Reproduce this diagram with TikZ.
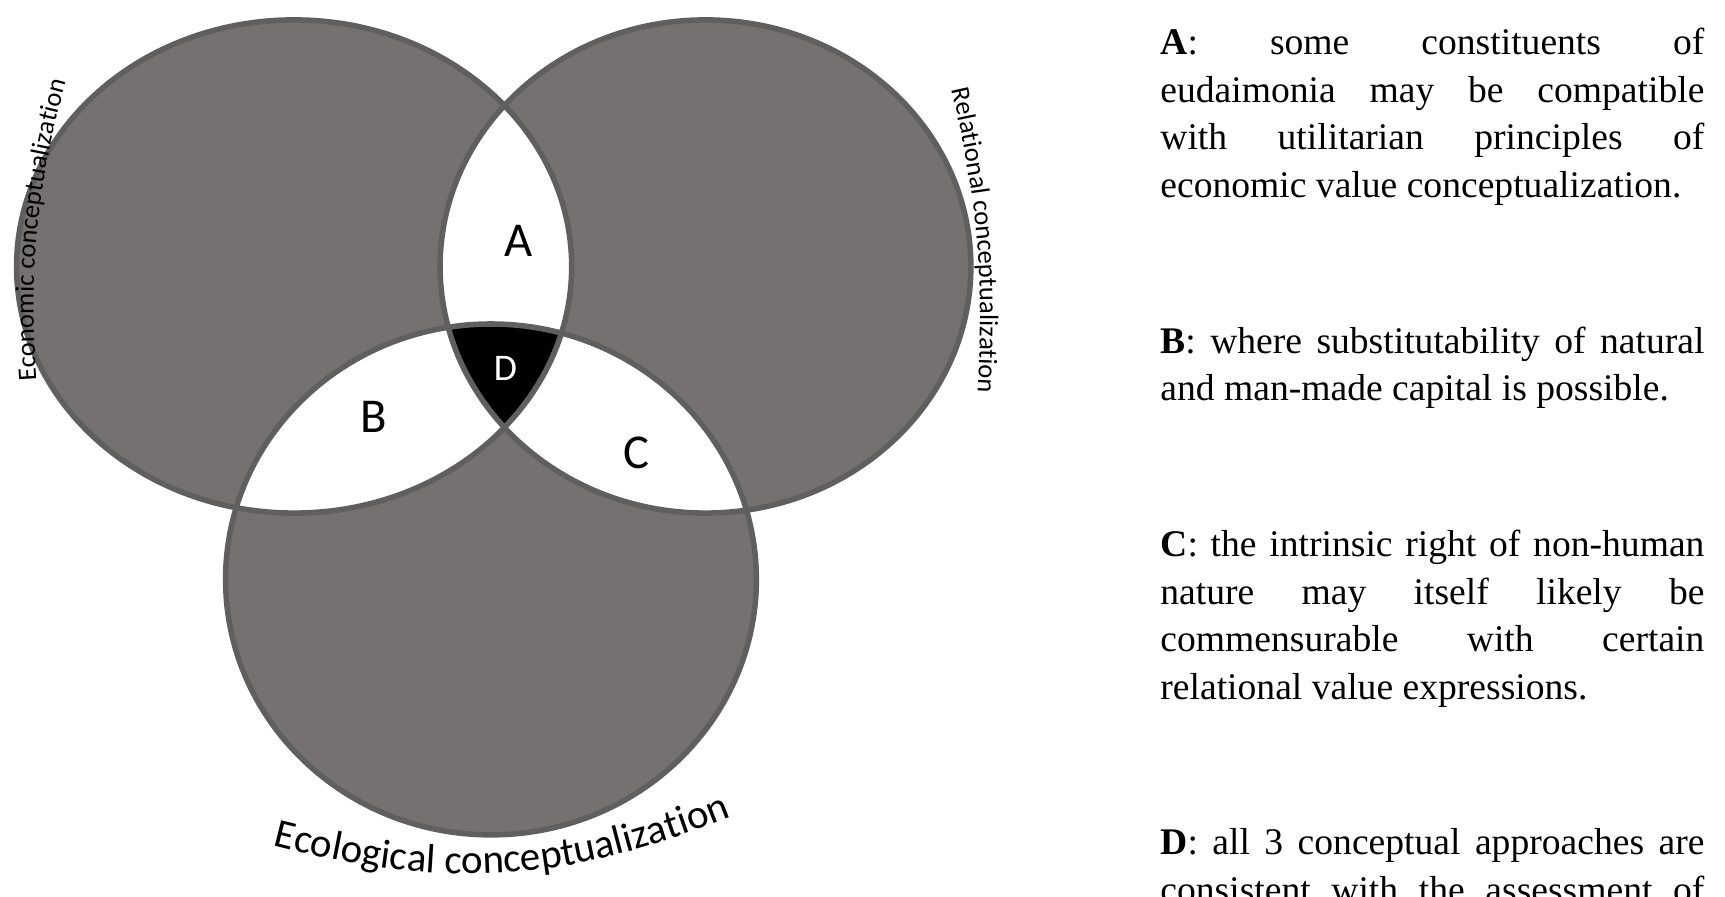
\documentclass[tikz,border=0pt]{standalone}
\usepackage{fontspec}
\setmainfont{Liberation Serif}
\newfontfamily\calib{Carlito}
\usetikzlibrary{decorations.text}
\definecolor{venngray}{HTML}{767171}
\definecolor{vennline}{HTML}{5F5F5F}
\begin{document}
\begin{tikzpicture}[x=0.5pt,y=0.5pt,
  rlabel/.style={font=\calib\fontsize{22}{22}\selectfont},
  para/.style={anchor=north west,inner sep=0pt,text width=246pt,align=justify,
     font=\fontsize{17}{21.5}\selectfont}]
\useasboundingbox (0,0) rectangle (1560,811);
\clip (0,0) rectangle (1560,811);
\def\Lc{(266,570) ellipse [x radius=251,y radius=223]}
\def\Rc{(638,570) ellipse [x radius=240,y radius=223]}
\def\Bc{(444,287) ellipse [x radius=240,y radius=231]}
\fill[venngray] \Lc; \fill[venngray] \Rc; \fill[venngray] \Bc;
\begin{scope}\clip \Lc; \fill[white] \Rc; \fill[white] \Bc;\end{scope}
\begin{scope}\clip \Rc; \fill[white] \Bc;\end{scope}
\begin{scope}\clip \Lc; \clip \Rc; \fill[black] \Bc;\end{scope}
\draw[vennline,line width=2.5pt] \Lc \Rc \Bc;
\node[rlabel] (A) at (469,593) {A};
\node[rlabel] (B) at (338,434) {B};
\node[rlabel] (C) at (576,401) {C};
\node[rlabel,white,font=\calib\fontsize{17}{17}\selectfont] (D) at (457,478) {D};
% curved labels
\coordinate (l1) at (34,452); \coordinate (l2) at (64,752);
\coordinate (r1) at (860,734); \coordinate (r2) at (884,452);
\coordinate (e1) at (248,46); \coordinate (e2) at (660,72);
\path[decorate,decoration={text along path,text align=center,
   text={|\calib\fontsize{12}{12}\selectfont|Economic conceptualization}}]
   (l1) to[bend left=10] (l2);
\path[decorate,decoration={text along path,text align=center,
   text={|\calib\fontsize{12}{12}\selectfont|Relational conceptualization}}]
   (r1) to[bend left=8] (r2);
\path[decorate,decoration={text along path,text align=center,
   text={|\calib\fontsize{18.5}{18.5}\selectfont|Ecological conceptualization}}]
   (e1) to[bend right=18] (e2);
% explanations
\node[para] (pA) at (1049,786) {\textbf{A}: some constituents of\linebreak eudaimonia may be compatible\linebreak with utilitarian principles of\linebreak economic value conceptualization.};
\node[para] (pB) at (1049,516) {\textbf{B}: where substitutability of natural\linebreak and man-made capital is possible.};
\node[para] (pC) at (1049,332) {\textbf{C}: the intrinsic right of non-human\linebreak nature may itself likely be\linebreak commensurable with certain\linebreak relational value expressions.};
\node[para] (pD) at (1049,62) {\textbf{D}: all 3 conceptual approaches are\linebreak consistent with the assessment of\linebreak};
\end{tikzpicture}
\end{document}
